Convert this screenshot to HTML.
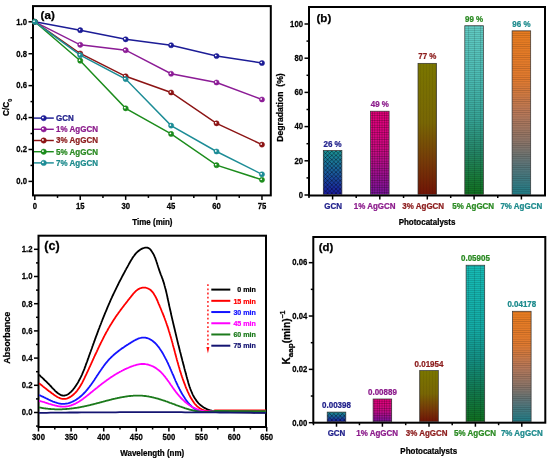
<!DOCTYPE html><html><head><meta charset="utf-8"><style>html,body{margin:0;padding:0;background:#fff;}svg{display:block;will-change:transform;}text{font-family:"Liberation Sans",sans-serif;}</style></head><body>
<svg width="550" height="460" viewBox="0 0 550 460">
<defs>
<radialGradient id="m_gcn" cx="0.45" cy="0.45" r="0.6" fx="0.32" fy="0.38"><stop offset="0" stop-color="#fff"/><stop offset="0.12" stop-color="#fff"/><stop offset="0.4" stop-color="#1c1c96"/><stop offset="1" stop-color="#1c1c96"/></radialGradient>
<radialGradient id="m_p1" cx="0.45" cy="0.45" r="0.6" fx="0.32" fy="0.38"><stop offset="0" stop-color="#fff"/><stop offset="0.12" stop-color="#fff"/><stop offset="0.4" stop-color="#8c1c96"/><stop offset="1" stop-color="#8c1c96"/></radialGradient>
<radialGradient id="m_p3" cx="0.45" cy="0.45" r="0.6" fx="0.32" fy="0.38"><stop offset="0" stop-color="#fff"/><stop offset="0.12" stop-color="#fff"/><stop offset="0.4" stop-color="#8c1414"/><stop offset="1" stop-color="#8c1414"/></radialGradient>
<radialGradient id="m_p5" cx="0.45" cy="0.45" r="0.6" fx="0.32" fy="0.38"><stop offset="0" stop-color="#fff"/><stop offset="0.12" stop-color="#fff"/><stop offset="0.4" stop-color="#1c8c1c"/><stop offset="1" stop-color="#1c8c1c"/></radialGradient>
<radialGradient id="m_p7" cx="0.45" cy="0.45" r="0.6" fx="0.32" fy="0.38"><stop offset="0" stop-color="#fff"/><stop offset="0.12" stop-color="#fff"/><stop offset="0.4" stop-color="#1c8c96"/><stop offset="1" stop-color="#1c8c96"/></radialGradient>
<linearGradient id="g_gcn" x1="0" y1="0" x2="0" y2="1"><stop offset="0" stop-color="#1a9494"/><stop offset="0.5" stop-color="#1a5c9c"/><stop offset="1" stop-color="#1a1aa0"/></linearGradient>
<linearGradient id="g_p1" x1="0" y1="0" x2="0" y2="1"><stop offset="0" stop-color="#e8007c"/><stop offset="0.45" stop-color="#d00a84"/><stop offset="1" stop-color="#7a149c"/></linearGradient>
<linearGradient id="g_p3" x1="0" y1="0" x2="0" y2="1"><stop offset="0" stop-color="#7a7600"/><stop offset="0.45" stop-color="#786604"/><stop offset="0.75" stop-color="#763a08"/><stop offset="1" stop-color="#701406"/></linearGradient>
<linearGradient id="g_p5" x1="0" y1="0" x2="0" y2="1"><stop offset="0" stop-color="#62ccc4"/><stop offset="0.3" stop-color="#4cbcb4"/><stop offset="0.55" stop-color="#36a496"/><stop offset="0.75" stop-color="#248666"/><stop offset="0.9" stop-color="#187a3a"/><stop offset="1" stop-color="#117020"/></linearGradient>
<linearGradient id="g_p7" x1="0" y1="0" x2="0" y2="1"><stop offset="0" stop-color="#e87c20"/><stop offset="0.3" stop-color="#e07a30"/><stop offset="0.5" stop-color="#b87858"/><stop offset="0.68" stop-color="#8a7468"/><stop offset="0.82" stop-color="#5a7478"/><stop offset="1" stop-color="#207c86"/></linearGradient>
<linearGradient id="g_p5d" x1="0" y1="0" x2="0" y2="1"><stop offset="0" stop-color="#16bcb6"/><stop offset="0.4" stop-color="#14aca6"/><stop offset="0.6" stop-color="#149084"/><stop offset="0.8" stop-color="#127a50"/><stop offset="1" stop-color="#107020"/></linearGradient>
<pattern id="pt_diam" width="4.2" height="4.2" patternUnits="userSpaceOnUse"><path d="M0,0 L4.2,4.2 M4.2,0 L0,4.2" stroke="#001" stroke-opacity="0.55" stroke-width="0.8"/></pattern>
<pattern id="pt_grid" width="2.4" height="2.4" patternUnits="userSpaceOnUse"><path d="M0,0.3 H2.4 M0.3,0 V2.4" stroke="#000" stroke-opacity="0.4" stroke-width="0.6"/></pattern>
<pattern id="pt_h" width="4" height="2.2" patternUnits="userSpaceOnUse"><path d="M0,0.3 H4" stroke="#000" stroke-opacity="0.25" stroke-width="0.6"/></pattern>
<pattern id="pt_hv" width="6" height="2" patternUnits="userSpaceOnUse"><path d="M0,0.3 H6 M0.3,0 V2" stroke="#000" stroke-opacity="0.28" stroke-width="0.6"/></pattern>
<pattern id="pt_v" width="3" height="4" patternUnits="userSpaceOnUse"><path d="M0.3,0 V4" stroke="#000" stroke-opacity="0.12" stroke-width="0.6"/></pattern>
</defs>
<rect width="550" height="460" fill="#fff"/>
<rect x="33.00" y="6.10" width="237.80" height="189.30" fill="none" stroke="#000" stroke-width="2"/>
<line x1="28.50" y1="181.40" x2="33.00" y2="181.40" stroke="#000" stroke-width="1.5" />
<text transform="translate(27.00,184.20) scale(0.86,1)" font-size="9" text-anchor="end" fill="#000" stroke="#000" stroke-width="0.25" font-weight="bold">0.0</text>
<line x1="30.50" y1="165.44" x2="33.00" y2="165.44" stroke="#000" stroke-width="1.5" />
<line x1="28.50" y1="149.48" x2="33.00" y2="149.48" stroke="#000" stroke-width="1.5" />
<text transform="translate(27.00,152.28) scale(0.86,1)" font-size="9" text-anchor="end" fill="#000" stroke="#000" stroke-width="0.25" font-weight="bold">0.2</text>
<line x1="30.50" y1="133.52" x2="33.00" y2="133.52" stroke="#000" stroke-width="1.5" />
<line x1="28.50" y1="117.56" x2="33.00" y2="117.56" stroke="#000" stroke-width="1.5" />
<text transform="translate(27.00,120.36) scale(0.86,1)" font-size="9" text-anchor="end" fill="#000" stroke="#000" stroke-width="0.25" font-weight="bold">0.4</text>
<line x1="30.50" y1="101.60" x2="33.00" y2="101.60" stroke="#000" stroke-width="1.5" />
<line x1="28.50" y1="85.64" x2="33.00" y2="85.64" stroke="#000" stroke-width="1.5" />
<text transform="translate(27.00,88.44) scale(0.86,1)" font-size="9" text-anchor="end" fill="#000" stroke="#000" stroke-width="0.25" font-weight="bold">0.6</text>
<line x1="30.50" y1="69.68" x2="33.00" y2="69.68" stroke="#000" stroke-width="1.5" />
<line x1="28.50" y1="53.72" x2="33.00" y2="53.72" stroke="#000" stroke-width="1.5" />
<text transform="translate(27.00,56.52) scale(0.86,1)" font-size="9" text-anchor="end" fill="#000" stroke="#000" stroke-width="0.25" font-weight="bold">0.8</text>
<line x1="30.50" y1="37.76" x2="33.00" y2="37.76" stroke="#000" stroke-width="1.5" />
<line x1="28.50" y1="21.80" x2="33.00" y2="21.80" stroke="#000" stroke-width="1.5" />
<text transform="translate(27.00,24.60) scale(0.86,1)" font-size="9" text-anchor="end" fill="#000" stroke="#000" stroke-width="0.25" font-weight="bold">1.0</text>
<line x1="34.80" y1="195.40" x2="34.80" y2="199.90" stroke="#000" stroke-width="1.5" />
<text transform="translate(34.80,208.70) scale(0.86,1)" font-size="9" text-anchor="middle" fill="#000" stroke="#000" stroke-width="0.25" font-weight="bold">0</text>
<line x1="57.52" y1="195.40" x2="57.52" y2="197.90" stroke="#000" stroke-width="1.5" />
<line x1="80.23" y1="195.40" x2="80.23" y2="199.90" stroke="#000" stroke-width="1.5" />
<text transform="translate(80.23,208.70) scale(0.86,1)" font-size="9" text-anchor="middle" fill="#000" stroke="#000" stroke-width="0.25" font-weight="bold">15</text>
<line x1="102.95" y1="195.40" x2="102.95" y2="197.90" stroke="#000" stroke-width="1.5" />
<line x1="125.67" y1="195.40" x2="125.67" y2="199.90" stroke="#000" stroke-width="1.5" />
<text transform="translate(125.67,208.70) scale(0.86,1)" font-size="9" text-anchor="middle" fill="#000" stroke="#000" stroke-width="0.25" font-weight="bold">30</text>
<line x1="148.39" y1="195.40" x2="148.39" y2="197.90" stroke="#000" stroke-width="1.5" />
<line x1="171.11" y1="195.40" x2="171.11" y2="199.90" stroke="#000" stroke-width="1.5" />
<text transform="translate(171.11,208.70) scale(0.86,1)" font-size="9" text-anchor="middle" fill="#000" stroke="#000" stroke-width="0.25" font-weight="bold">45</text>
<line x1="193.82" y1="195.40" x2="193.82" y2="197.90" stroke="#000" stroke-width="1.5" />
<line x1="216.54" y1="195.40" x2="216.54" y2="199.90" stroke="#000" stroke-width="1.5" />
<text transform="translate(216.54,208.70) scale(0.86,1)" font-size="9" text-anchor="middle" fill="#000" stroke="#000" stroke-width="0.25" font-weight="bold">60</text>
<line x1="239.26" y1="195.40" x2="239.26" y2="197.90" stroke="#000" stroke-width="1.5" />
<line x1="261.97" y1="195.40" x2="261.97" y2="199.90" stroke="#000" stroke-width="1.5" />
<text transform="translate(261.97,208.70) scale(0.86,1)" font-size="9" text-anchor="middle" fill="#000" stroke="#000" stroke-width="0.25" font-weight="bold">75</text>
<text transform="translate(152.40,225.00) scale(0.94,1)" font-size="8.5" text-anchor="middle" fill="#000" stroke="#000" stroke-width="0.25" font-weight="bold">Time (min)</text>
<text transform="translate(40.60,18.90) scale(1,1)" font-size="11.6" text-anchor="start" fill="#000" stroke="#000" stroke-width="0.25" font-weight="bold">(a)</text>
<text transform="translate(9.20,107.30) rotate(-90) scale(1.0,1)" font-size="8.2" text-anchor="middle" fill="#000" stroke="#000" stroke-width="0.25" font-weight="bold" xml:space="preserve">C/C<tspan font-size="5.5" dy="2.5">0</tspan></text>
<polyline points="34.80,21.80 80.23,30.20 125.67,39.30 171.11,45.25 216.54,56.00 261.97,63.00" fill="none" stroke="#1c1c96" stroke-width="1.45"/>
<circle cx="34.80" cy="21.80" r="2.6" fill="url(#m_gcn)" stroke="#1c1c96" stroke-width="0.5"/>
<circle cx="80.23" cy="30.20" r="2.6" fill="url(#m_gcn)" stroke="#1c1c96" stroke-width="0.5"/>
<circle cx="125.67" cy="39.30" r="2.6" fill="url(#m_gcn)" stroke="#1c1c96" stroke-width="0.5"/>
<circle cx="171.11" cy="45.25" r="2.6" fill="url(#m_gcn)" stroke="#1c1c96" stroke-width="0.5"/>
<circle cx="216.54" cy="56.00" r="2.6" fill="url(#m_gcn)" stroke="#1c1c96" stroke-width="0.5"/>
<circle cx="261.97" cy="63.00" r="2.6" fill="url(#m_gcn)" stroke="#1c1c96" stroke-width="0.5"/>
<polyline points="34.80,21.80 80.23,44.80 125.67,50.20 171.11,73.75 216.54,82.50 261.97,99.50" fill="none" stroke="#8c1c96" stroke-width="1.45"/>
<circle cx="34.80" cy="21.80" r="2.6" fill="url(#m_p1)" stroke="#8c1c96" stroke-width="0.5"/>
<circle cx="80.23" cy="44.80" r="2.6" fill="url(#m_p1)" stroke="#8c1c96" stroke-width="0.5"/>
<circle cx="125.67" cy="50.20" r="2.6" fill="url(#m_p1)" stroke="#8c1c96" stroke-width="0.5"/>
<circle cx="171.11" cy="73.75" r="2.6" fill="url(#m_p1)" stroke="#8c1c96" stroke-width="0.5"/>
<circle cx="216.54" cy="82.50" r="2.6" fill="url(#m_p1)" stroke="#8c1c96" stroke-width="0.5"/>
<circle cx="261.97" cy="99.50" r="2.6" fill="url(#m_p1)" stroke="#8c1c96" stroke-width="0.5"/>
<polyline points="34.80,21.80 80.23,53.50 125.67,76.30 171.11,92.50 216.54,123.30 261.97,144.60" fill="none" stroke="#8c1414" stroke-width="1.45"/>
<circle cx="34.80" cy="21.80" r="2.6" fill="url(#m_p3)" stroke="#8c1414" stroke-width="0.5"/>
<circle cx="80.23" cy="53.50" r="2.6" fill="url(#m_p3)" stroke="#8c1414" stroke-width="0.5"/>
<circle cx="125.67" cy="76.30" r="2.6" fill="url(#m_p3)" stroke="#8c1414" stroke-width="0.5"/>
<circle cx="171.11" cy="92.50" r="2.6" fill="url(#m_p3)" stroke="#8c1414" stroke-width="0.5"/>
<circle cx="216.54" cy="123.30" r="2.6" fill="url(#m_p3)" stroke="#8c1414" stroke-width="0.5"/>
<circle cx="261.97" cy="144.60" r="2.6" fill="url(#m_p3)" stroke="#8c1414" stroke-width="0.5"/>
<polyline points="34.80,21.80 80.23,60.70 125.67,108.30 171.11,133.90 216.54,165.20 261.97,179.80" fill="none" stroke="#1c8c1c" stroke-width="1.45"/>
<circle cx="34.80" cy="21.80" r="2.6" fill="url(#m_p5)" stroke="#1c8c1c" stroke-width="0.5"/>
<circle cx="80.23" cy="60.70" r="2.6" fill="url(#m_p5)" stroke="#1c8c1c" stroke-width="0.5"/>
<circle cx="125.67" cy="108.30" r="2.6" fill="url(#m_p5)" stroke="#1c8c1c" stroke-width="0.5"/>
<circle cx="171.11" cy="133.90" r="2.6" fill="url(#m_p5)" stroke="#1c8c1c" stroke-width="0.5"/>
<circle cx="216.54" cy="165.20" r="2.6" fill="url(#m_p5)" stroke="#1c8c1c" stroke-width="0.5"/>
<circle cx="261.97" cy="179.80" r="2.6" fill="url(#m_p5)" stroke="#1c8c1c" stroke-width="0.5"/>
<polyline points="34.80,21.80 80.23,55.20 125.67,79.10 171.11,125.60 216.54,151.50 261.97,174.30" fill="none" stroke="#1c8c96" stroke-width="1.45"/>
<circle cx="34.80" cy="21.80" r="2.6" fill="url(#m_p7)" stroke="#1c8c96" stroke-width="0.5"/>
<circle cx="80.23" cy="55.20" r="2.6" fill="url(#m_p7)" stroke="#1c8c96" stroke-width="0.5"/>
<circle cx="125.67" cy="79.10" r="2.6" fill="url(#m_p7)" stroke="#1c8c96" stroke-width="0.5"/>
<circle cx="171.11" cy="125.60" r="2.6" fill="url(#m_p7)" stroke="#1c8c96" stroke-width="0.5"/>
<circle cx="216.54" cy="151.50" r="2.6" fill="url(#m_p7)" stroke="#1c8c96" stroke-width="0.5"/>
<circle cx="261.97" cy="174.30" r="2.6" fill="url(#m_p7)" stroke="#1c8c96" stroke-width="0.5"/>
<line x1="34.00" y1="118.10" x2="53.80" y2="118.10" stroke="#1c1c96" stroke-width="1.45" />
<circle cx="43.7" cy="118.10" r="2.7" fill="url(#m_gcn)" stroke="#1c1c96" stroke-width="0.5"/>
<text transform="translate(56.10,121.00) scale(0.94,1)" font-size="8.5" text-anchor="start" fill="#22228c" stroke="#22228c" stroke-width="0.25" font-weight="bold">GCN</text>
<line x1="34.00" y1="129.30" x2="53.80" y2="129.30" stroke="#8c1c96" stroke-width="1.45" />
<circle cx="43.7" cy="129.30" r="2.7" fill="url(#m_p1)" stroke="#8c1c96" stroke-width="0.5"/>
<text transform="translate(56.10,132.20) scale(0.94,1)" font-size="8.5" text-anchor="start" fill="#8c1c8c" stroke="#8c1c8c" stroke-width="0.25" font-weight="bold">1% AgGCN</text>
<line x1="34.00" y1="140.50" x2="53.80" y2="140.50" stroke="#8c1414" stroke-width="1.45" />
<circle cx="43.7" cy="140.50" r="2.7" fill="url(#m_p3)" stroke="#8c1414" stroke-width="0.5"/>
<text transform="translate(56.10,143.40) scale(0.94,1)" font-size="8.5" text-anchor="start" fill="#8c1c1c" stroke="#8c1c1c" stroke-width="0.25" font-weight="bold">3% AgGCN</text>
<line x1="34.00" y1="151.70" x2="53.80" y2="151.70" stroke="#1c8c1c" stroke-width="1.45" />
<circle cx="43.7" cy="151.70" r="2.7" fill="url(#m_p5)" stroke="#1c8c1c" stroke-width="0.5"/>
<text transform="translate(56.10,154.60) scale(0.94,1)" font-size="8.5" text-anchor="start" fill="#2a8a22" stroke="#2a8a22" stroke-width="0.25" font-weight="bold">5% AgGCN</text>
<line x1="34.00" y1="162.90" x2="53.80" y2="162.90" stroke="#1c8c96" stroke-width="1.45" />
<circle cx="43.7" cy="162.90" r="2.7" fill="url(#m_p7)" stroke="#1c8c96" stroke-width="0.5"/>
<text transform="translate(56.10,165.80) scale(0.94,1)" font-size="8.5" text-anchor="start" fill="#1c8a8c" stroke="#1c8a8c" stroke-width="0.25" font-weight="bold">7% AgGCN</text>
<rect x="309.00" y="7.00" width="236.00" height="188.50" fill="none" stroke="#000" stroke-width="2"/>
<line x1="304.50" y1="195.00" x2="309.00" y2="195.00" stroke="#000" stroke-width="1.5" />
<text transform="translate(303.00,197.80) scale(0.86,1)" font-size="9" text-anchor="end" fill="#000" stroke="#000" stroke-width="0.25" font-weight="bold">0</text>
<line x1="306.50" y1="177.90" x2="309.00" y2="177.90" stroke="#000" stroke-width="1.5" />
<line x1="304.50" y1="160.80" x2="309.00" y2="160.80" stroke="#000" stroke-width="1.5" />
<text transform="translate(303.00,163.60) scale(0.86,1)" font-size="9" text-anchor="end" fill="#000" stroke="#000" stroke-width="0.25" font-weight="bold">20</text>
<line x1="306.50" y1="143.70" x2="309.00" y2="143.70" stroke="#000" stroke-width="1.5" />
<line x1="304.50" y1="126.60" x2="309.00" y2="126.60" stroke="#000" stroke-width="1.5" />
<text transform="translate(303.00,129.40) scale(0.86,1)" font-size="9" text-anchor="end" fill="#000" stroke="#000" stroke-width="0.25" font-weight="bold">40</text>
<line x1="306.50" y1="109.50" x2="309.00" y2="109.50" stroke="#000" stroke-width="1.5" />
<line x1="304.50" y1="92.40" x2="309.00" y2="92.40" stroke="#000" stroke-width="1.5" />
<text transform="translate(303.00,95.20) scale(0.86,1)" font-size="9" text-anchor="end" fill="#000" stroke="#000" stroke-width="0.25" font-weight="bold">60</text>
<line x1="306.50" y1="75.30" x2="309.00" y2="75.30" stroke="#000" stroke-width="1.5" />
<line x1="304.50" y1="58.20" x2="309.00" y2="58.20" stroke="#000" stroke-width="1.5" />
<text transform="translate(303.00,61.00) scale(0.86,1)" font-size="9" text-anchor="end" fill="#000" stroke="#000" stroke-width="0.25" font-weight="bold">80</text>
<line x1="306.50" y1="41.10" x2="309.00" y2="41.10" stroke="#000" stroke-width="1.5" />
<line x1="304.50" y1="24.00" x2="309.00" y2="24.00" stroke="#000" stroke-width="1.5" />
<text transform="translate(303.00,26.80) scale(0.86,1)" font-size="9" text-anchor="end" fill="#000" stroke="#000" stroke-width="0.25" font-weight="bold">100</text>
<line x1="332.60" y1="195.50" x2="332.60" y2="199.50" stroke="#000" stroke-width="1.5" />
<line x1="356.20" y1="195.50" x2="356.20" y2="198.00" stroke="#000" stroke-width="1.5" />
<line x1="379.80" y1="195.50" x2="379.80" y2="199.50" stroke="#000" stroke-width="1.5" />
<line x1="403.55" y1="195.50" x2="403.55" y2="198.00" stroke="#000" stroke-width="1.5" />
<line x1="427.30" y1="195.50" x2="427.30" y2="199.50" stroke="#000" stroke-width="1.5" />
<line x1="450.70" y1="195.50" x2="450.70" y2="198.00" stroke="#000" stroke-width="1.5" />
<line x1="474.10" y1="195.50" x2="474.10" y2="199.50" stroke="#000" stroke-width="1.5" />
<line x1="497.75" y1="195.50" x2="497.75" y2="198.00" stroke="#000" stroke-width="1.5" />
<line x1="521.40" y1="195.50" x2="521.40" y2="199.50" stroke="#000" stroke-width="1.5" />
<line x1="309.00" y1="195.50" x2="309.00" y2="198.00" stroke="#000" stroke-width="1.5" />
<rect x="323.30" y="150.54" width="18.60" height="43.96" fill="url(#g_gcn)"/>
<rect x="323.30" y="150.54" width="18.60" height="43.96" fill="url(#pt_diam)" stroke="#333" stroke-width="0.7"/>
<text transform="translate(332.60,146.54) scale(0.94,1)" font-size="8.5" text-anchor="middle" fill="#22228c" stroke="#22228c" stroke-width="0.25" font-weight="bold">26 %</text>
<text transform="translate(333.20,208.50) scale(0.94,1)" font-size="8.5" text-anchor="middle" fill="#22228c" stroke="#22228c" stroke-width="0.25" font-weight="bold">GCN</text>
<rect x="370.50" y="111.21" width="18.60" height="83.29" fill="url(#g_p1)"/>
<rect x="370.50" y="111.21" width="18.60" height="83.29" fill="url(#pt_grid)" stroke="#333" stroke-width="0.7"/>
<text transform="translate(379.80,107.21) scale(0.94,1)" font-size="8.5" text-anchor="middle" fill="#8c1c8c" stroke="#8c1c8c" stroke-width="0.25" font-weight="bold">49 %</text>
<text transform="translate(374.60,208.50) scale(0.94,1)" font-size="8.5" text-anchor="middle" fill="#8c1c8c" stroke="#8c1c8c" stroke-width="0.25" font-weight="bold">1% AgGCN</text>
<rect x="418.00" y="63.33" width="18.60" height="131.17" fill="url(#g_p3)"/>
<rect x="418.00" y="63.33" width="18.60" height="131.17" fill="url(#pt_v)" stroke="#333" stroke-width="0.7"/>
<text transform="translate(427.30,59.33) scale(0.94,1)" font-size="8.5" text-anchor="middle" fill="#8c1c1c" stroke="#8c1c1c" stroke-width="0.25" font-weight="bold">77 %</text>
<text transform="translate(423.20,208.50) scale(0.94,1)" font-size="8.5" text-anchor="middle" fill="#8c1c1c" stroke="#8c1c1c" stroke-width="0.25" font-weight="bold">3% AgGCN</text>
<rect x="464.80" y="25.71" width="18.60" height="168.79" fill="url(#g_p5)"/>
<rect x="464.80" y="25.71" width="18.60" height="168.79" fill="url(#pt_hv)" stroke="#333" stroke-width="0.7"/>
<text transform="translate(474.10,21.71) scale(0.94,1)" font-size="8.5" text-anchor="middle" fill="#2a8a22" stroke="#2a8a22" stroke-width="0.25" font-weight="bold">99 %</text>
<text transform="translate(473.20,208.50) scale(0.94,1)" font-size="8.5" text-anchor="middle" fill="#2a8a22" stroke="#2a8a22" stroke-width="0.25" font-weight="bold">5% AgGCN</text>
<rect x="512.10" y="30.84" width="18.60" height="163.66" fill="url(#g_p7)"/>
<rect x="512.10" y="30.84" width="18.60" height="163.66" fill="url(#pt_h)" stroke="#333" stroke-width="0.7"/>
<text transform="translate(521.40,26.84) scale(0.94,1)" font-size="8.5" text-anchor="middle" fill="#1c8a8c" stroke="#1c8a8c" stroke-width="0.25" font-weight="bold">96 %</text>
<text transform="translate(521.30,208.50) scale(0.94,1)" font-size="8.5" text-anchor="middle" fill="#1c8a8c" stroke="#1c8a8c" stroke-width="0.25" font-weight="bold">7% AgGCN</text>
<text transform="translate(427.00,224.90) scale(0.94,1)" font-size="8.5" text-anchor="middle" fill="#000" stroke="#000" stroke-width="0.25" font-weight="bold">Photocatalysts</text>
<text transform="translate(316.50,22.20) scale(1,1)" font-size="11.6" text-anchor="start" fill="#000" stroke="#000" stroke-width="0.25" font-weight="bold">(b)</text>
<text transform="translate(283.30,107.50) rotate(-90) scale(1.0,1)" font-size="8.6" text-anchor="middle" fill="#000" stroke="#000" stroke-width="0.25" font-weight="bold" xml:space="preserve">Degradation  (%)</text>
<rect x="38.50" y="235.70" width="227.50" height="191.30" fill="none" stroke="#000" stroke-width="2"/>
<line x1="36.00" y1="426.10" x2="38.50" y2="426.10" stroke="#000" stroke-width="1.5" />
<line x1="34.00" y1="412.50" x2="38.50" y2="412.50" stroke="#000" stroke-width="1.5" />
<text transform="translate(32.50,415.30) scale(0.86,1)" font-size="9" text-anchor="end" fill="#000" stroke="#000" stroke-width="0.25" font-weight="bold">0.0</text>
<line x1="36.00" y1="398.90" x2="38.50" y2="398.90" stroke="#000" stroke-width="1.5" />
<line x1="34.00" y1="385.30" x2="38.50" y2="385.30" stroke="#000" stroke-width="1.5" />
<text transform="translate(32.50,388.10) scale(0.86,1)" font-size="9" text-anchor="end" fill="#000" stroke="#000" stroke-width="0.25" font-weight="bold">0.2</text>
<line x1="36.00" y1="371.70" x2="38.50" y2="371.70" stroke="#000" stroke-width="1.5" />
<line x1="34.00" y1="358.10" x2="38.50" y2="358.10" stroke="#000" stroke-width="1.5" />
<text transform="translate(32.50,360.90) scale(0.86,1)" font-size="9" text-anchor="end" fill="#000" stroke="#000" stroke-width="0.25" font-weight="bold">0.4</text>
<line x1="36.00" y1="344.50" x2="38.50" y2="344.50" stroke="#000" stroke-width="1.5" />
<line x1="34.00" y1="330.90" x2="38.50" y2="330.90" stroke="#000" stroke-width="1.5" />
<text transform="translate(32.50,333.70) scale(0.86,1)" font-size="9" text-anchor="end" fill="#000" stroke="#000" stroke-width="0.25" font-weight="bold">0.6</text>
<line x1="36.00" y1="317.30" x2="38.50" y2="317.30" stroke="#000" stroke-width="1.5" />
<line x1="34.00" y1="303.70" x2="38.50" y2="303.70" stroke="#000" stroke-width="1.5" />
<text transform="translate(32.50,306.50) scale(0.86,1)" font-size="9" text-anchor="end" fill="#000" stroke="#000" stroke-width="0.25" font-weight="bold">0.8</text>
<line x1="36.00" y1="290.10" x2="38.50" y2="290.10" stroke="#000" stroke-width="1.5" />
<line x1="34.00" y1="276.50" x2="38.50" y2="276.50" stroke="#000" stroke-width="1.5" />
<text transform="translate(32.50,279.30) scale(0.86,1)" font-size="9" text-anchor="end" fill="#000" stroke="#000" stroke-width="0.25" font-weight="bold">1.0</text>
<line x1="36.00" y1="262.90" x2="38.50" y2="262.90" stroke="#000" stroke-width="1.5" />
<line x1="34.00" y1="249.30" x2="38.50" y2="249.30" stroke="#000" stroke-width="1.5" />
<text transform="translate(32.50,252.10) scale(0.86,1)" font-size="9" text-anchor="end" fill="#000" stroke="#000" stroke-width="0.25" font-weight="bold">1.2</text>
<line x1="38.50" y1="427.00" x2="38.50" y2="431.50" stroke="#000" stroke-width="1.5" />
<text transform="translate(38.50,439.60) scale(0.86,1)" font-size="9" text-anchor="middle" fill="#000" stroke="#000" stroke-width="0.25" font-weight="bold">300</text>
<line x1="54.80" y1="427.00" x2="54.80" y2="429.50" stroke="#000" stroke-width="1.5" />
<line x1="71.10" y1="427.00" x2="71.10" y2="431.50" stroke="#000" stroke-width="1.5" />
<text transform="translate(71.10,439.60) scale(0.86,1)" font-size="9" text-anchor="middle" fill="#000" stroke="#000" stroke-width="0.25" font-weight="bold">350</text>
<line x1="87.40" y1="427.00" x2="87.40" y2="429.50" stroke="#000" stroke-width="1.5" />
<line x1="103.70" y1="427.00" x2="103.70" y2="431.50" stroke="#000" stroke-width="1.5" />
<text transform="translate(103.70,439.60) scale(0.86,1)" font-size="9" text-anchor="middle" fill="#000" stroke="#000" stroke-width="0.25" font-weight="bold">400</text>
<line x1="120.00" y1="427.00" x2="120.00" y2="429.50" stroke="#000" stroke-width="1.5" />
<line x1="136.30" y1="427.00" x2="136.30" y2="431.50" stroke="#000" stroke-width="1.5" />
<text transform="translate(136.30,439.60) scale(0.86,1)" font-size="9" text-anchor="middle" fill="#000" stroke="#000" stroke-width="0.25" font-weight="bold">450</text>
<line x1="152.60" y1="427.00" x2="152.60" y2="429.50" stroke="#000" stroke-width="1.5" />
<line x1="168.90" y1="427.00" x2="168.90" y2="431.50" stroke="#000" stroke-width="1.5" />
<text transform="translate(168.90,439.60) scale(0.86,1)" font-size="9" text-anchor="middle" fill="#000" stroke="#000" stroke-width="0.25" font-weight="bold">500</text>
<line x1="185.20" y1="427.00" x2="185.20" y2="429.50" stroke="#000" stroke-width="1.5" />
<line x1="201.50" y1="427.00" x2="201.50" y2="431.50" stroke="#000" stroke-width="1.5" />
<text transform="translate(201.50,439.60) scale(0.86,1)" font-size="9" text-anchor="middle" fill="#000" stroke="#000" stroke-width="0.25" font-weight="bold">550</text>
<line x1="217.80" y1="427.00" x2="217.80" y2="429.50" stroke="#000" stroke-width="1.5" />
<line x1="234.10" y1="427.00" x2="234.10" y2="431.50" stroke="#000" stroke-width="1.5" />
<text transform="translate(234.10,439.60) scale(0.86,1)" font-size="9" text-anchor="middle" fill="#000" stroke="#000" stroke-width="0.25" font-weight="bold">600</text>
<line x1="250.40" y1="427.00" x2="250.40" y2="429.50" stroke="#000" stroke-width="1.5" />
<line x1="266.70" y1="427.00" x2="266.70" y2="431.50" stroke="#000" stroke-width="1.5" />
<text transform="translate(266.70,439.60) scale(0.86,1)" font-size="9" text-anchor="middle" fill="#000" stroke="#000" stroke-width="0.25" font-weight="bold">650</text>
<text transform="translate(152.20,455.80) scale(0.94,1)" font-size="8.5" text-anchor="middle" fill="#000" stroke="#000" stroke-width="0.25" font-weight="bold">Wavelength (nm)</text>
<text transform="translate(44.30,250.30) scale(1.05,1)" font-size="12" text-anchor="start" fill="#000" stroke="#000" stroke-width="0.25" font-weight="bold">(c)</text>
<text transform="translate(9.80,337.80) rotate(-90) scale(1.0,1)" font-size="9" text-anchor="middle" fill="#000" stroke="#000" stroke-width="0.25" font-weight="bold" xml:space="preserve">Absorbance</text>
<clipPath id="clipc"><rect x="38.5" y="235.7" width="227.5" height="191.3"/></clipPath>
<g clip-path="url(#clipc)">
<polyline points="39.0,374.8 40.2,375.8 41.2,376.8 42.2,377.7 43.2,378.6 44.1,379.5 44.9,380.3 45.8,381.1 46.6,381.9 47.5,382.8 48.3,383.6 49.2,384.5 50.1,385.5 51.1,386.5 52.0,387.6 53.0,388.7 54.1,389.7 55.1,390.8 56.2,391.8 57.3,392.7 58.4,393.6 59.5,394.3 60.6,394.9 61.7,395.3 62.8,395.5 63.9,395.6 64.9,395.5 66.0,395.2 67.0,394.8 68.1,394.2 69.1,393.5 70.0,392.7 71.0,391.8 71.9,390.8 72.9,389.8 73.7,388.7 74.6,387.6 75.4,386.4 76.2,385.2 77.0,384.0 77.7,382.9 78.4,381.7 79.0,380.5 79.7,379.3 80.3,378.1 80.9,376.9 81.4,375.8 82.0,374.6 82.5,373.4 83.0,372.2 83.5,371.0 84.0,369.8 84.5,368.6 84.9,367.4 85.4,366.1 85.8,364.9 86.3,363.7 86.7,362.5 87.2,361.3 87.6,360.1 88.0,358.9 88.5,357.6 88.9,356.4 89.3,355.2 89.8,353.9 90.2,352.7 90.7,351.5 91.1,350.3 91.6,349.0 92.0,347.8 92.4,346.5 92.9,345.3 93.3,344.1 93.8,342.8 94.2,341.6 94.7,340.4 95.1,339.1 95.6,337.9 96.0,336.6 96.5,335.4 97.0,334.2 97.4,332.9 97.9,331.7 98.3,330.4 98.8,329.2 99.3,328.0 99.7,326.7 100.2,325.5 100.7,324.3 101.2,323.0 101.6,321.8 102.1,320.6 102.6,319.3 103.1,318.1 103.6,316.9 104.1,315.7 104.6,314.4 105.1,313.2 105.6,312.0 106.1,310.8 106.6,309.6 107.1,308.4 107.6,307.2 108.1,306.0 108.6,304.8 109.1,303.6 109.7,302.4 110.2,301.2 110.7,300.0 111.2,298.8 111.8,297.6 112.3,296.4 112.9,295.3 113.4,294.1 114.0,292.9 114.5,291.8 115.1,290.6 115.7,289.4 116.2,288.3 116.8,287.1 117.4,285.9 118.0,284.8 118.5,283.6 119.1,282.4 119.7,281.3 120.3,280.1 120.9,279.0 121.5,277.8 122.1,276.6 122.7,275.5 123.4,274.3 124.0,273.1 124.6,272.0 125.2,270.8 125.9,269.6 126.5,268.4 127.2,267.2 127.8,266.1 128.5,264.9 129.1,263.7 129.8,262.5 130.5,261.3 131.2,260.1 131.9,259.0 132.6,257.8 133.3,256.7 134.1,255.7 134.9,254.6 135.7,253.6 136.6,252.7 137.5,251.8 138.5,251.0 139.5,250.2 140.5,249.5 141.6,248.9 142.7,248.4 143.9,248.0 145.1,247.7 146.2,247.6 147.4,247.7 148.5,248.1 149.5,248.7 150.5,249.6 151.3,250.7 152.1,251.9 152.9,253.2 153.6,254.4 154.2,255.7 154.7,256.9 155.3,258.2 155.7,259.4 156.2,260.7 156.6,262.0 157.0,263.2 157.4,264.5 157.8,265.7 158.2,267.0 158.6,268.2 159.0,269.4 159.4,270.6 159.8,271.9 160.3,273.1 160.7,274.3 161.2,275.5 161.7,276.7 162.1,277.9 162.6,279.1 163.0,280.4 163.4,281.6 163.8,282.9 164.2,284.1 164.5,285.4 164.9,286.7 165.2,288.0 165.6,289.2 165.9,290.5 166.2,291.8 166.5,293.1 166.8,294.4 167.1,295.7 167.4,297.0 167.6,298.3 167.9,299.6 168.2,300.9 168.5,302.2 168.8,303.5 169.0,304.8 169.3,306.1 169.6,307.4 169.9,308.7 170.2,310.0 170.5,311.2 170.8,312.5 171.0,313.8 171.3,315.1 171.6,316.3 171.9,317.6 172.2,318.9 172.5,320.2 172.8,321.4 173.1,322.7 173.4,324.0 173.7,325.2 174.0,326.5 174.3,327.8 174.6,329.0 174.9,330.3 175.2,331.6 175.5,332.8 175.8,334.1 176.1,335.3 176.4,336.6 176.7,337.9 177.0,339.1 177.3,340.4 177.6,341.7 177.9,342.9 178.2,344.2 178.6,345.5 178.9,346.7 179.2,348.0 179.5,349.3 179.8,350.5 180.1,351.8 180.5,353.1 180.8,354.3 181.1,355.6 181.4,356.9 181.8,358.1 182.1,359.4 182.4,360.7 182.8,362.0 183.1,363.3 183.4,364.6 183.8,365.8 184.1,367.1 184.4,368.4 184.8,369.7 185.1,371.0 185.5,372.3 185.8,373.6 186.2,374.9 186.5,376.2 186.9,377.5 187.2,378.8 187.6,380.1 188.0,381.4 188.3,382.7 188.7,384.0 189.1,385.3 189.5,386.6 190.0,387.8 190.4,389.1 190.9,390.3 191.4,391.5 191.9,392.7 192.4,393.9 193.0,395.1 193.6,396.2 194.2,397.3 194.9,398.4 195.5,399.4 196.3,400.4 197.0,401.4 197.8,402.4 198.6,403.3 199.5,404.2 200.4,405.0 201.4,405.8 202.4,406.5 203.4,407.2 204.5,407.9 205.7,408.5 206.9,409.1 208.2,409.6 209.5,410.0 210.8,410.5 212.3,410.8 213.8,411.1 215.3,411.3 230.0,412.2 266.0,412.6" fill="none" stroke="#000000" stroke-width="1.8" stroke-linejoin="round"/>
<polyline points="39.1,383.2 39.9,383.9 40.7,384.6 41.6,385.2 42.4,385.9 43.2,386.6 44.0,387.2 44.9,387.9 45.7,388.6 46.6,389.2 47.4,389.9 48.3,390.5 49.1,391.2 50.0,391.8 50.9,392.5 51.8,393.2 52.7,393.8 53.6,394.5 54.6,395.2 55.5,395.8 56.5,396.4 57.4,397.0 58.4,397.5 59.4,397.9 60.4,398.3 61.4,398.6 62.4,398.8 63.5,398.9 64.5,398.9 65.5,398.8 66.5,398.6 67.4,398.3 68.4,397.9 69.4,397.4 70.3,396.9 71.2,396.3 72.0,395.7 72.9,395.0 73.7,394.3 74.4,393.6 75.2,392.9 75.9,392.1 76.6,391.3 77.3,390.5 77.9,389.6 78.5,388.7 79.2,387.9 79.7,387.0 80.3,386.0 80.9,385.1 81.4,384.1 82.0,383.2 82.5,382.2 83.0,381.2 83.5,380.2 84.0,379.2 84.5,378.2 84.9,377.2 85.4,376.2 85.9,375.2 86.4,374.2 86.8,373.2 87.3,372.2 87.8,371.2 88.2,370.2 88.7,369.2 89.1,368.2 89.6,367.2 90.1,366.2 90.5,365.2 91.0,364.2 91.4,363.2 91.9,362.2 92.3,361.2 92.8,360.2 93.2,359.2 93.7,358.2 94.1,357.2 94.6,356.2 95.0,355.2 95.5,354.3 95.9,353.3 96.4,352.3 96.9,351.3 97.3,350.3 97.8,349.3 98.2,348.4 98.7,347.4 99.2,346.4 99.6,345.4 100.1,344.5 100.6,343.5 101.0,342.5 101.5,341.6 102.0,340.6 102.5,339.7 103.0,338.7 103.4,337.8 103.9,336.8 104.4,335.9 104.9,334.9 105.4,334.0 105.9,333.0 106.4,332.1 107.0,331.1 107.5,330.2 108.0,329.3 108.5,328.4 109.1,327.4 109.6,326.5 110.1,325.6 110.7,324.7 111.3,323.8 111.8,322.9 112.4,322.0 113.0,321.1 113.5,320.2 114.1,319.3 114.7,318.4 115.3,317.5 115.9,316.6 116.5,315.7 117.1,314.8 117.8,314.0 118.4,313.1 119.0,312.2 119.7,311.3 120.3,310.5 120.9,309.6 121.6,308.7 122.3,307.8 122.9,307.0 123.6,306.1 124.2,305.2 124.9,304.3 125.6,303.5 126.3,302.6 127.0,301.7 127.7,300.8 128.3,299.9 129.0,299.1 129.7,298.2 130.5,297.3 131.2,296.4 131.9,295.5 132.6,294.6 133.3,293.7 134.1,292.9 134.8,292.1 135.6,291.3 136.4,290.6 137.2,290.0 138.0,289.4 138.9,288.9 139.7,288.4 140.7,288.1 141.6,287.8 142.6,287.6 143.6,287.6 144.6,287.6 145.6,287.7 146.6,288.0 147.6,288.3 148.5,288.7 149.4,289.2 150.3,289.8 151.1,290.5 151.9,291.3 152.6,292.1 153.3,293.0 153.9,294.0 154.5,295.0 155.1,295.9 155.6,297.0 156.2,298.0 156.6,299.0 157.1,300.0 157.6,301.0 158.0,302.1 158.4,303.1 158.8,304.1 159.3,305.1 159.7,306.1 160.1,307.1 160.5,308.0 160.9,309.0 161.3,310.0 161.7,311.0 162.1,312.0 162.5,312.9 162.9,313.9 163.3,314.9 163.7,315.9 164.1,316.9 164.5,318.0 164.9,319.0 165.2,320.0 165.6,321.0 166.0,322.0 166.3,323.0 166.7,324.1 167.0,325.1 167.4,326.1 167.7,327.2 168.1,328.2 168.4,329.2 168.7,330.3 169.0,331.3 169.4,332.3 169.7,333.4 170.0,334.4 170.3,335.5 170.6,336.5 170.9,337.5 171.2,338.6 171.5,339.6 171.8,340.7 172.1,341.7 172.4,342.8 172.7,343.8 172.9,344.9 173.2,345.9 173.5,346.9 173.8,348.0 174.1,349.0 174.3,350.1 174.6,351.1 174.9,352.2 175.2,353.2 175.4,354.3 175.7,355.3 176.0,356.3 176.3,357.4 176.6,358.4 176.8,359.5 177.1,360.5 177.4,361.6 177.7,362.6 178.0,363.6 178.3,364.7 178.6,365.7 178.9,366.8 179.2,367.8 179.5,368.8 179.8,369.9 180.1,370.9 180.4,371.9 180.8,373.0 181.1,374.0 181.4,375.0 181.8,376.1 182.1,377.1 182.5,378.1 182.8,379.1 183.2,380.2 183.6,381.2 183.9,382.2 184.3,383.2 184.7,384.2 185.1,385.2 185.5,386.3 185.9,387.3 186.3,388.3 186.8,389.3 187.2,390.3 187.6,391.3 188.1,392.3 188.6,393.3 189.0,394.3 189.5,395.3 190.0,396.3 190.5,397.2 191.1,398.2 191.6,399.1 192.2,400.0 192.8,400.9 193.4,401.8 194.0,402.7 194.6,403.5 195.3,404.3 196.0,405.0 196.7,405.8 197.4,406.5 198.2,407.1 199.0,407.7 199.8,408.3 200.7,408.8 201.6,409.3 202.5,409.7 203.5,410.1 204.5,410.4 205.5,410.6 206.6,410.8 207.7,411.0 208.9,411.0 210.1,411.0 211.3,410.9 212.6,410.8 213.9,410.6 215.3,410.3 230.0,410.4 266.0,410.4" fill="none" stroke="#ff0000" stroke-width="1.8" stroke-linejoin="round"/>
<polyline points="39.2,395.2 39.8,395.4 40.5,395.7 41.2,396.0 41.9,396.3 42.6,396.6 43.3,396.9 44.0,397.3 44.8,397.6 45.5,398.0 46.3,398.4 47.0,398.7 47.8,399.1 48.5,399.5 49.3,399.9 50.0,400.2 50.8,400.6 51.6,400.9 52.4,401.3 53.1,401.6 53.9,401.9 54.7,402.2 55.5,402.5 56.3,402.7 57.1,403.0 57.8,403.2 58.6,403.4 59.4,403.6 60.2,403.7 61.0,403.8 61.8,403.9 62.6,403.9 63.3,403.9 64.1,403.9 64.9,403.8 65.7,403.7 66.4,403.6 67.2,403.5 68.0,403.3 68.7,403.1 69.5,402.9 70.2,402.6 70.9,402.3 71.7,402.0 72.4,401.7 73.1,401.4 73.8,401.0 74.5,400.7 75.2,400.3 75.8,399.9 76.5,399.5 77.1,399.0 77.8,398.6 78.4,398.1 79.0,397.7 79.6,397.2 80.2,396.7 80.8,396.2 81.4,395.7 82.0,395.2 82.6,394.6 83.1,394.1 83.7,393.5 84.2,393.0 84.8,392.4 85.3,391.8 85.8,391.3 86.3,390.7 86.8,390.1 87.4,389.5 87.9,388.8 88.4,388.2 88.8,387.6 89.3,387.0 89.8,386.3 90.3,385.7 90.8,385.0 91.2,384.4 91.7,383.7 92.2,383.0 92.6,382.4 93.1,381.7 93.6,381.0 94.0,380.4 94.5,379.7 94.9,379.0 95.4,378.3 95.8,377.6 96.3,377.0 96.7,376.3 97.2,375.6 97.6,374.9 98.1,374.2 98.5,373.5 99.0,372.9 99.4,372.2 99.9,371.5 100.4,370.8 100.8,370.1 101.3,369.5 101.8,368.8 102.2,368.1 102.7,367.4 103.2,366.8 103.7,366.1 104.1,365.5 104.6,364.8 105.1,364.2 105.6,363.5 106.1,362.9 106.6,362.3 107.2,361.7 107.7,361.0 108.2,360.4 108.7,359.8 109.3,359.2 109.8,358.7 110.4,358.1 110.9,357.5 111.5,357.0 112.1,356.4 112.7,355.9 113.3,355.3 113.9,354.8 114.5,354.3 115.1,353.7 115.7,353.2 116.3,352.7 116.9,352.2 117.6,351.7 118.2,351.2 118.8,350.7 119.5,350.2 120.1,349.8 120.8,349.3 121.5,348.8 122.1,348.3 122.8,347.9 123.5,347.4 124.1,347.0 124.8,346.5 125.5,346.0 126.2,345.6 126.9,345.1 127.6,344.7 128.3,344.3 129.0,343.8 129.7,343.4 130.4,342.9 131.1,342.5 131.8,342.1 132.5,341.6 133.2,341.2 133.9,340.8 134.6,340.4 135.4,340.0 136.1,339.6 136.8,339.3 137.5,339.0 138.2,338.7 138.9,338.4 139.7,338.2 140.4,338.0 141.1,337.8 141.8,337.7 142.5,337.6 143.3,337.6 144.0,337.6 144.7,337.6 145.4,337.7 146.1,337.9 146.8,338.0 147.5,338.2 148.2,338.5 148.9,338.7 149.5,339.0 150.2,339.4 150.8,339.7 151.5,340.1 152.1,340.6 152.7,341.0 153.3,341.5 153.9,342.0 154.5,342.5 155.1,343.0 155.7,343.6 156.2,344.2 156.8,344.8 157.3,345.4 157.8,346.1 158.3,346.7 158.9,347.4 159.4,348.1 159.8,348.8 160.3,349.5 160.8,350.2 161.3,350.9 161.7,351.6 162.2,352.4 162.6,353.1 163.1,353.9 163.5,354.6 163.9,355.4 164.3,356.2 164.7,356.9 165.1,357.7 165.5,358.4 165.9,359.2 166.3,359.9 166.7,360.7 167.0,361.4 167.4,362.2 167.8,362.9 168.1,363.7 168.4,364.4 168.8,365.2 169.1,365.9 169.5,366.7 169.8,367.4 170.1,368.1 170.4,368.9 170.8,369.6 171.1,370.3 171.4,371.1 171.7,371.8 172.0,372.5 172.3,373.3 172.6,374.0 173.0,374.7 173.3,375.4 173.6,376.2 173.9,376.9 174.2,377.6 174.5,378.3 174.8,379.0 175.1,379.7 175.4,380.5 175.7,381.2 176.1,381.9 176.4,382.6 176.7,383.3 177.0,384.0 177.4,384.7 177.7,385.4 178.0,386.1 178.4,386.8 178.7,387.5 179.1,388.2 179.4,388.9 179.8,389.6 180.1,390.3 180.5,391.0 180.9,391.7 181.2,392.3 181.6,393.0 182.0,393.7 182.4,394.4 182.8,395.1 183.3,395.8 183.7,396.4 184.1,397.1 184.6,397.8 185.0,398.5 185.5,399.2 185.9,399.8 186.4,400.5 186.9,401.1 187.4,401.8 187.9,402.4 188.4,403.1 189.0,403.7 189.5,404.3 190.1,404.9 190.6,405.5 191.2,406.0 191.8,406.6 192.4,407.1 193.0,407.6 193.6,408.1 194.2,408.5 194.9,409.0 195.6,409.4 196.2,409.8 196.9,410.2 197.6,410.5 198.4,410.8 199.1,411.1 199.8,411.3 200.6,411.5 201.4,411.7 202.2,411.8 203.0,411.9 203.8,412.0 204.7,412.0 205.5,412.0 206.4,412.0 207.3,411.9 208.2,411.7 209.1,411.5 210.1,411.3 230.0,411.8 266.0,411.8" fill="none" stroke="#1414ff" stroke-width="1.8" stroke-linejoin="round"/>
<polyline points="39.1,400.9 39.7,401.0 40.4,401.1 41.0,401.3 41.6,401.5 42.2,401.7 42.9,401.8 43.5,402.0 44.2,402.2 44.9,402.5 45.5,402.7 46.2,402.9 46.9,403.1 47.6,403.3 48.3,403.5 49.0,403.8 49.7,404.0 50.4,404.2 51.1,404.4 51.8,404.6 52.5,404.8 53.2,405.0 54.0,405.2 54.7,405.4 55.4,405.6 56.1,405.7 56.8,405.9 57.5,406.0 58.3,406.2 59.0,406.3 59.7,406.4 60.4,406.5 61.1,406.5 61.8,406.6 62.5,406.6 63.2,406.6 63.9,406.6 64.5,406.6 65.2,406.6 65.9,406.5 66.6,406.4 67.2,406.3 67.9,406.2 68.5,406.1 69.2,405.9 69.8,405.7 70.4,405.6 71.1,405.4 71.7,405.1 72.3,404.9 73.0,404.7 73.6,404.4 74.2,404.1 74.8,403.9 75.4,403.6 76.0,403.3 76.6,402.9 77.2,402.6 77.8,402.3 78.4,401.9 79.0,401.6 79.6,401.2 80.1,400.8 80.7,400.4 81.3,400.1 81.9,399.7 82.4,399.3 83.0,398.9 83.6,398.4 84.1,398.0 84.7,397.6 85.3,397.2 85.8,396.7 86.4,396.3 86.9,395.9 87.5,395.4 88.0,395.0 88.6,394.5 89.1,394.1 89.7,393.7 90.2,393.2 90.7,392.8 91.3,392.3 91.8,391.9 92.4,391.5 92.9,391.0 93.4,390.6 94.0,390.1 94.5,389.7 95.1,389.3 95.6,388.8 96.1,388.4 96.7,388.0 97.2,387.6 97.7,387.1 98.3,386.7 98.8,386.3 99.3,385.8 99.9,385.4 100.4,385.0 101.0,384.6 101.5,384.2 102.0,383.7 102.6,383.3 103.1,382.9 103.7,382.5 104.2,382.1 104.8,381.7 105.3,381.3 105.9,380.9 106.4,380.5 107.0,380.1 107.5,379.7 108.1,379.3 108.7,378.9 109.2,378.5 109.8,378.1 110.4,377.7 110.9,377.3 111.5,376.9 112.1,376.6 112.7,376.2 113.3,375.8 113.8,375.4 114.4,375.1 115.0,374.7 115.6,374.3 116.2,374.0 116.8,373.6 117.5,373.2 118.1,372.9 118.7,372.5 119.3,372.2 119.9,371.8 120.6,371.5 121.2,371.2 121.8,370.8 122.5,370.5 123.1,370.2 123.8,369.9 124.4,369.5 125.1,369.2 125.7,368.9 126.4,368.6 127.0,368.3 127.7,368.0 128.4,367.8 129.0,367.5 129.7,367.2 130.3,367.0 131.0,366.7 131.7,366.4 132.4,366.2 133.0,366.0 133.7,365.7 134.4,365.5 135.0,365.3 135.7,365.1 136.4,364.9 137.1,364.7 137.7,364.6 138.4,364.4 139.1,364.3 139.7,364.2 140.4,364.1 141.1,364.0 141.7,364.0 142.4,364.0 143.1,364.0 143.7,364.0 144.4,364.0 145.1,364.1 145.7,364.2 146.4,364.3 147.0,364.4 147.7,364.5 148.3,364.7 148.9,364.9 149.6,365.1 150.2,365.3 150.8,365.5 151.5,365.8 152.1,366.0 152.7,366.3 153.3,366.6 153.9,366.9 154.5,367.2 155.0,367.6 155.6,367.9 156.2,368.3 156.7,368.7 157.3,369.1 157.8,369.5 158.4,369.9 158.9,370.3 159.4,370.8 159.9,371.2 160.4,371.7 160.9,372.2 161.4,372.7 161.9,373.2 162.3,373.7 162.8,374.2 163.3,374.7 163.7,375.2 164.2,375.8 164.6,376.3 165.1,376.9 165.5,377.4 165.9,378.0 166.4,378.6 166.8,379.1 167.2,379.7 167.6,380.3 168.1,380.9 168.5,381.5 168.9,382.0 169.3,382.6 169.7,383.2 170.1,383.8 170.5,384.4 170.9,385.0 171.4,385.6 171.8,386.2 172.2,386.8 172.6,387.4 173.0,388.0 173.4,388.6 173.8,389.2 174.3,389.8 174.7,390.3 175.1,390.9 175.6,391.5 176.0,392.1 176.4,392.6 176.9,393.2 177.3,393.7 177.8,394.3 178.2,394.8 178.7,395.4 179.1,395.9 179.6,396.4 180.1,397.0 180.5,397.5 181.0,398.0 181.5,398.5 182.0,399.0 182.5,399.5 183.0,399.9 183.5,400.4 184.0,400.9 184.5,401.3 185.0,401.8 185.5,402.2 186.0,402.7 186.6,403.1 187.1,403.5 187.6,403.9 188.2,404.3 188.7,404.7 189.3,405.1 189.8,405.5 190.4,405.8 191.0,406.2 191.5,406.5 192.1,406.9 192.7,407.2 193.3,407.5 193.9,407.8 194.5,408.1 195.1,408.4 195.7,408.7 196.3,408.9 196.9,409.2 197.5,409.4 198.2,409.6 198.8,409.9 199.5,410.1 200.1,410.3 200.8,410.4 201.4,410.6 202.1,410.8 202.8,410.9 203.4,411.0 204.1,411.2 204.8,411.3 205.5,411.4 206.2,411.4 206.9,411.5 207.7,411.6 208.4,411.6 209.1,411.6 209.8,411.6 210.6,411.6 211.3,411.6 212.1,411.6 212.9,411.5 213.6,411.5 214.4,411.4 215.2,411.3 266.0,411.6" fill="none" stroke="#ff00ff" stroke-width="1.8" stroke-linejoin="round"/>
<polyline points="39.0,407.4 39.6,407.5 40.3,407.6 40.9,407.7 41.5,407.8 42.1,408.0 42.7,408.1 43.3,408.2 43.9,408.3 44.5,408.3 45.1,408.4 45.7,408.5 46.3,408.6 47.0,408.7 47.6,408.7 48.2,408.8 48.8,408.9 49.4,408.9 50.0,409.0 50.6,409.0 51.2,409.1 51.8,409.1 52.4,409.2 53.0,409.2 53.6,409.2 54.2,409.2 54.8,409.3 55.4,409.3 56.0,409.3 56.6,409.3 57.2,409.3 57.8,409.3 58.4,409.3 59.0,409.3 59.6,409.3 60.2,409.3 60.8,409.3 61.4,409.3 62.0,409.3 62.6,409.2 63.2,409.2 63.7,409.2 64.3,409.1 64.9,409.1 65.5,409.1 66.1,409.0 66.7,409.0 67.3,408.9 67.9,408.9 68.5,408.8 69.1,408.8 69.7,408.7 70.3,408.6 70.9,408.6 71.4,408.5 72.0,408.4 72.6,408.4 73.2,408.3 73.8,408.2 74.4,408.1 75.0,408.0 75.6,407.9 76.2,407.8 76.8,407.8 77.3,407.7 77.9,407.6 78.5,407.5 79.1,407.4 79.7,407.3 80.3,407.1 80.9,407.0 81.4,406.9 82.0,406.8 82.6,406.7 83.2,406.6 83.8,406.5 84.4,406.3 85.0,406.2 85.6,406.1 86.1,406.0 86.7,405.8 87.3,405.7 87.9,405.6 88.5,405.4 89.1,405.3 89.6,405.2 90.2,405.0 90.8,404.9 91.4,404.7 92.0,404.6 92.6,404.4 93.2,404.3 93.7,404.1 94.3,404.0 94.9,403.8 95.5,403.7 96.1,403.5 96.7,403.4 97.2,403.2 97.8,403.1 98.4,402.9 99.0,402.8 99.6,402.6 100.2,402.4 100.8,402.3 101.3,402.1 101.9,402.0 102.5,401.8 103.1,401.7 103.7,401.5 104.3,401.4 104.9,401.2 105.4,401.0 106.0,400.9 106.6,400.7 107.2,400.6 107.8,400.4 108.4,400.3 109.0,400.1 109.6,400.0 110.2,399.8 110.7,399.7 111.3,399.5 111.9,399.4 112.5,399.2 113.1,399.1 113.7,398.9 114.3,398.8 114.9,398.7 115.5,398.5 116.1,398.4 116.7,398.3 117.3,398.1 117.8,398.0 118.4,397.9 119.0,397.8 119.6,397.6 120.2,397.5 120.8,397.4 121.4,397.3 122.0,397.2 122.6,397.1 123.2,397.0 123.8,396.9 124.4,396.8 125.0,396.7 125.6,396.6 126.2,396.5 126.8,396.4 127.4,396.3 128.0,396.2 128.6,396.2 129.2,396.1 129.8,396.0 130.4,396.0 131.0,395.9 131.6,395.9 132.2,395.8 132.8,395.8 133.4,395.7 134.0,395.7 134.6,395.7 135.2,395.6 135.8,395.6 136.4,395.6 137.0,395.6 137.6,395.6 138.2,395.6 138.8,395.6 139.4,395.6 140.0,395.6 140.6,395.6 141.2,395.7 141.7,395.7 142.3,395.7 142.9,395.8 143.5,395.8 144.1,395.9 144.7,396.0 145.3,396.0 145.9,396.1 146.5,396.2 147.0,396.3 147.6,396.4 148.2,396.4 148.8,396.5 149.4,396.7 150.0,396.8 150.5,396.9 151.1,397.0 151.7,397.1 152.3,397.3 152.9,397.4 153.4,397.5 154.0,397.7 154.6,397.8 155.2,398.0 155.7,398.1 156.3,398.3 156.9,398.4 157.5,398.6 158.0,398.7 158.6,398.9 159.2,399.1 159.8,399.3 160.3,399.4 160.9,399.6 161.5,399.8 162.1,400.0 162.6,400.2 163.2,400.4 163.8,400.6 164.3,400.7 164.9,400.9 165.5,401.1 166.0,401.3 166.6,401.5 167.2,401.7 167.7,401.9 168.3,402.1 168.9,402.4 169.5,402.6 170.0,402.8 170.6,403.0 171.2,403.2 171.7,403.4 172.3,403.6 172.9,403.8 173.4,404.0 174.0,404.2 174.5,404.4 175.1,404.6 175.7,404.9 176.2,405.1 176.8,405.3 177.4,405.5 177.9,405.7 178.5,405.9 179.1,406.1 179.6,406.3 180.2,406.5 180.8,406.7 181.3,406.9 181.9,407.1 182.5,407.3 183.0,407.5 183.6,407.7 184.2,407.9 184.7,408.1 185.3,408.3 185.9,408.4 186.4,408.6 187.0,408.8 187.6,409.0 188.2,409.1 188.7,409.3 189.3,409.5 189.9,409.6 190.4,409.8 191.0,409.9 191.6,410.1 192.2,410.2 192.7,410.4 193.3,410.5 193.9,410.6 194.5,410.8 195.1,410.9 195.6,411.0 196.2,411.1 196.8,411.2 197.4,411.3 198.0,411.4 198.6,411.5 199.2,411.5 199.7,411.6 200.3,411.7 200.9,411.7 201.5,411.8 202.1,411.8 202.7,411.9 203.3,411.9 203.9,411.9 204.5,412.0 205.1,412.0 205.7,412.0 206.3,412.0 206.9,412.0 207.6,411.9 208.2,411.9 208.8,411.9 209.4,411.8 210.0,411.8 210.6,411.7 211.3,411.6 211.9,411.5 212.5,411.4 213.1,411.3 213.8,411.2 214.4,411.1 215.0,411.0 266.0,411.1" fill="none" stroke="#1c7a1c" stroke-width="1.8" stroke-linejoin="round"/>
<polyline points="39.0,412.9 42.8,412.8 46.7,412.8 50.5,412.7 54.4,412.7 58.2,412.6 62.1,412.6 65.9,412.6 69.8,412.5 73.6,412.5 77.5,412.5 81.3,412.4 85.2,412.4 89.0,412.4 92.9,412.4 96.7,412.3 100.6,412.3 104.4,412.3 108.3,412.3 112.1,412.3 115.9,412.3 119.8,412.2 123.6,412.2 127.5,412.2 131.3,412.2 135.2,412.2 139.0,412.2 142.9,412.2 146.7,412.2 150.6,412.2 154.4,412.2 158.3,412.2 162.1,412.2 166.0,412.2 169.8,412.2 173.7,412.2 177.5,412.2 181.4,412.2 185.2,412.3 189.1,412.3 192.9,412.3 196.7,412.3 200.6,412.3 204.4,412.4 208.3,412.4 212.1,412.4 216.0,412.4 219.8,412.5 223.7,412.5 227.5,412.5 231.4,412.6 235.2,412.6 239.1,412.6 242.9,412.7 246.8,412.7 250.6,412.7 254.5,412.8 258.3,412.8 262.2,412.9 266.0,412.9" fill="none" stroke="#141472" stroke-width="1.8" stroke-linejoin="round"/>
</g>
<line x1="211.30" y1="289.60" x2="230.30" y2="289.60" stroke="#000000" stroke-width="2" />
<text transform="translate(255.90,292.30) scale(0.9,1)" font-size="7.9" text-anchor="end" fill="#000000" stroke="#000000" stroke-width="0.25" font-weight="bold">0 min</text>
<line x1="211.30" y1="300.82" x2="230.30" y2="300.82" stroke="#ff0000" stroke-width="2" />
<text transform="translate(255.90,303.52) scale(0.9,1)" font-size="7.9" text-anchor="end" fill="#ff0000" stroke="#ff0000" stroke-width="0.25" font-weight="bold">15 min</text>
<line x1="211.30" y1="312.04" x2="230.30" y2="312.04" stroke="#1414ff" stroke-width="2" />
<text transform="translate(255.90,314.74) scale(0.9,1)" font-size="7.9" text-anchor="end" fill="#1414ff" stroke="#1414ff" stroke-width="0.25" font-weight="bold">30 min</text>
<line x1="211.30" y1="323.26" x2="230.30" y2="323.26" stroke="#ff00ff" stroke-width="2" />
<text transform="translate(255.90,325.96) scale(0.9,1)" font-size="7.9" text-anchor="end" fill="#ff00ff" stroke="#ff00ff" stroke-width="0.25" font-weight="bold">45 min</text>
<line x1="211.30" y1="334.48" x2="230.30" y2="334.48" stroke="#1c7a1c" stroke-width="2" />
<text transform="translate(255.90,337.18) scale(0.9,1)" font-size="7.9" text-anchor="end" fill="#1c7a1c" stroke="#1c7a1c" stroke-width="0.25" font-weight="bold">60 min</text>
<line x1="211.30" y1="345.70" x2="230.30" y2="345.70" stroke="#141472" stroke-width="2" />
<text transform="translate(255.90,348.40) scale(0.9,1)" font-size="7.9" text-anchor="end" fill="#141472" stroke="#141472" stroke-width="0.25" font-weight="bold">75 min</text>
<line x1="207.90" y1="284.20" x2="207.90" y2="346.00" stroke="#ff4040" stroke-width="1.8" stroke-dasharray="1.8,2.4"/>
<path d="M206.4,347 L209.4,347 L207.9,353.6 Z" fill="#ff1010"/>
<rect x="313.30" y="237.00" width="232.00" height="185.70" fill="none" stroke="#000" stroke-width="2"/>
<line x1="308.80" y1="422.70" x2="313.30" y2="422.70" stroke="#000" stroke-width="1.5" />
<text transform="translate(307.30,425.50) scale(0.86,1)" font-size="9" text-anchor="end" fill="#000" stroke="#000" stroke-width="0.25" font-weight="bold">0.00</text>
<line x1="310.80" y1="396.03" x2="313.30" y2="396.03" stroke="#000" stroke-width="1.5" />
<line x1="308.80" y1="369.36" x2="313.30" y2="369.36" stroke="#000" stroke-width="1.5" />
<text transform="translate(307.30,372.16) scale(0.86,1)" font-size="9" text-anchor="end" fill="#000" stroke="#000" stroke-width="0.25" font-weight="bold">0.02</text>
<line x1="310.80" y1="342.69" x2="313.30" y2="342.69" stroke="#000" stroke-width="1.5" />
<line x1="308.80" y1="316.02" x2="313.30" y2="316.02" stroke="#000" stroke-width="1.5" />
<text transform="translate(307.30,318.82) scale(0.86,1)" font-size="9" text-anchor="end" fill="#000" stroke="#000" stroke-width="0.25" font-weight="bold">0.04</text>
<line x1="310.80" y1="289.35" x2="313.30" y2="289.35" stroke="#000" stroke-width="1.5" />
<line x1="308.80" y1="262.68" x2="313.30" y2="262.68" stroke="#000" stroke-width="1.5" />
<text transform="translate(307.30,265.48) scale(0.86,1)" font-size="9" text-anchor="end" fill="#000" stroke="#000" stroke-width="0.25" font-weight="bold">0.06</text>
<line x1="336.50" y1="422.70" x2="336.50" y2="426.70" stroke="#000" stroke-width="1.5" />
<line x1="359.45" y1="422.70" x2="359.45" y2="425.20" stroke="#000" stroke-width="1.5" />
<line x1="382.40" y1="422.70" x2="382.40" y2="426.70" stroke="#000" stroke-width="1.5" />
<line x1="405.70" y1="422.70" x2="405.70" y2="425.20" stroke="#000" stroke-width="1.5" />
<line x1="429.00" y1="422.70" x2="429.00" y2="426.70" stroke="#000" stroke-width="1.5" />
<line x1="452.20" y1="422.70" x2="452.20" y2="425.20" stroke="#000" stroke-width="1.5" />
<line x1="475.40" y1="422.70" x2="475.40" y2="426.70" stroke="#000" stroke-width="1.5" />
<line x1="498.60" y1="422.70" x2="498.60" y2="425.20" stroke="#000" stroke-width="1.5" />
<line x1="521.80" y1="422.70" x2="521.80" y2="426.70" stroke="#000" stroke-width="1.5" />
<line x1="313.50" y1="422.70" x2="313.50" y2="425.20" stroke="#000" stroke-width="1.5" />
<rect x="327.20" y="412.09" width="18.60" height="9.61" fill="url(#g_gcn)"/>
<rect x="327.20" y="412.09" width="18.60" height="9.61" fill="url(#pt_diam)" stroke="#333" stroke-width="0.7"/>
<text transform="translate(336.50,408.09) scale(0.94,1)" font-size="8.5" text-anchor="middle" fill="#22228c" stroke="#22228c" stroke-width="0.25" font-weight="bold">0.00398</text>
<text transform="translate(336.50,436.30) scale(0.94,1)" font-size="8.5" text-anchor="middle" fill="#22228c" stroke="#22228c" stroke-width="0.25" font-weight="bold">GCN</text>
<rect x="373.10" y="398.99" width="18.60" height="22.71" fill="url(#g_p1)"/>
<rect x="373.10" y="398.99" width="18.60" height="22.71" fill="url(#pt_grid)" stroke="#333" stroke-width="0.7"/>
<text transform="translate(382.40,394.99) scale(0.94,1)" font-size="8.5" text-anchor="middle" fill="#8c1c8c" stroke="#8c1c8c" stroke-width="0.25" font-weight="bold">0.00889</text>
<text transform="translate(377.10,436.30) scale(0.94,1)" font-size="8.5" text-anchor="middle" fill="#8c1c8c" stroke="#8c1c8c" stroke-width="0.25" font-weight="bold">1% AgGCN</text>
<rect x="419.70" y="370.59" width="18.60" height="51.11" fill="url(#g_p3)"/>
<rect x="419.70" y="370.59" width="18.60" height="51.11" fill="url(#pt_v)" stroke="#333" stroke-width="0.7"/>
<text transform="translate(429.00,366.59) scale(0.94,1)" font-size="8.5" text-anchor="middle" fill="#8c1c1c" stroke="#8c1c1c" stroke-width="0.25" font-weight="bold">0.01954</text>
<text transform="translate(426.60,436.30) scale(0.94,1)" font-size="8.5" text-anchor="middle" fill="#8c1c1c" stroke="#8c1c1c" stroke-width="0.25" font-weight="bold">3% AgGCN</text>
<rect x="466.10" y="265.21" width="18.60" height="156.49" fill="url(#g_p5d)"/>
<rect x="466.10" y="265.21" width="18.60" height="156.49" fill="url(#pt_hv)" stroke="#333" stroke-width="0.7"/>
<text transform="translate(475.40,261.21) scale(0.94,1)" font-size="8.5" text-anchor="middle" fill="#2a8a22" stroke="#2a8a22" stroke-width="0.25" font-weight="bold">0.05905</text>
<text transform="translate(475.00,436.30) scale(0.94,1)" font-size="8.5" text-anchor="middle" fill="#2a8a22" stroke="#2a8a22" stroke-width="0.25" font-weight="bold">5% AgGCN</text>
<rect x="512.50" y="311.27" width="18.60" height="110.43" fill="url(#g_p7)"/>
<rect x="512.50" y="311.27" width="18.60" height="110.43" fill="url(#pt_h)" stroke="#333" stroke-width="0.7"/>
<text transform="translate(521.80,307.27) scale(0.94,1)" font-size="8.5" text-anchor="middle" fill="#1c8a8c" stroke="#1c8a8c" stroke-width="0.25" font-weight="bold">0.04178</text>
<text transform="translate(521.80,436.30) scale(0.94,1)" font-size="8.5" text-anchor="middle" fill="#1c8a8c" stroke="#1c8a8c" stroke-width="0.25" font-weight="bold">7% AgGCN</text>
<text transform="translate(428.70,453.80) scale(0.94,1)" font-size="8.5" text-anchor="middle" fill="#000" stroke="#000" stroke-width="0.25" font-weight="bold">Photocatalysts</text>
<text transform="translate(318.80,250.50) scale(1,1)" font-size="11.4" text-anchor="start" fill="#000" stroke="#000" stroke-width="0.25" font-weight="bold">(d)</text>
<text transform="translate(289.50,337.50) rotate(-90) scale(1.0,1)" font-size="10.2" text-anchor="middle" fill="#000" stroke="#000" stroke-width="0.25" font-weight="bold" xml:space="preserve">K<tspan font-size="8" dy="3">aap</tspan><tspan dy="-3">(min)</tspan><tspan font-size="7" dy="-5">−1</tspan></text>
</svg></body></html>
